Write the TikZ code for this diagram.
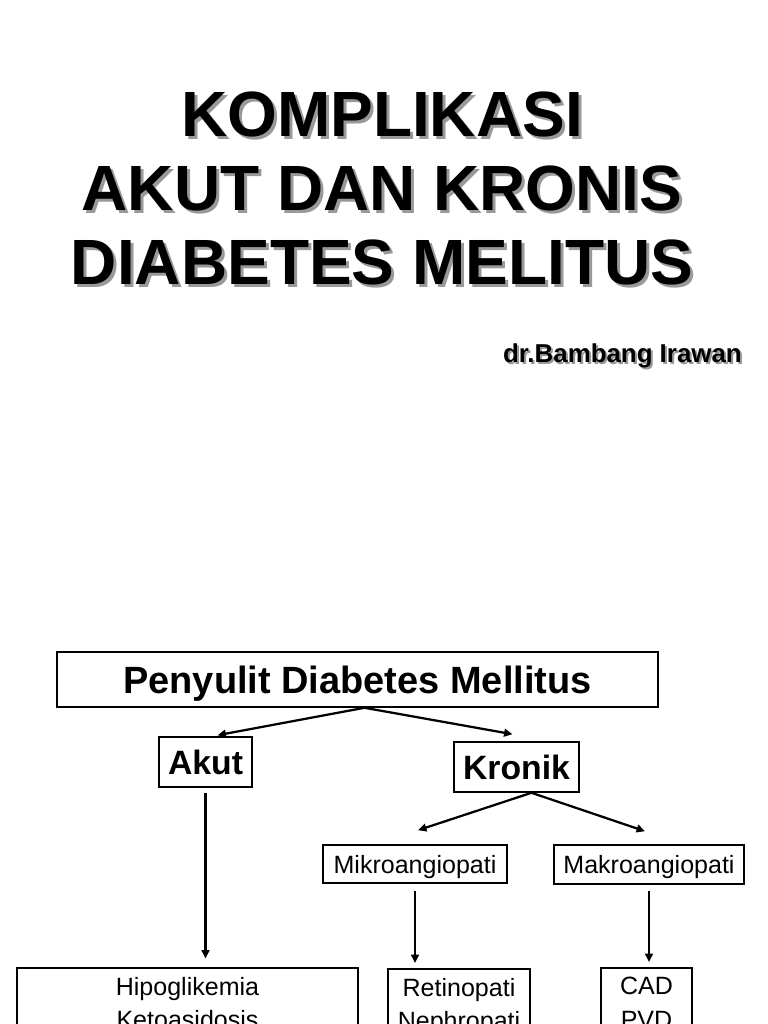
\documentclass[tikz,border=0pt]{standalone}
\usepackage{fontspec}
\setmainfont{Liberation Sans}
\usetikzlibrary{calc}
\usetikzlibrary{arrows.meta}

\begin{document}
\begin{tikzpicture}[x=0.025cm,y=-0.025cm,
    judul/.style={font=\fontsize{45.5}{54}\selectfont\bfseries, anchor=base, inner sep=0pt},
    penulis/.style={font=\fontsize{18.4}{22}\selectfont\bfseries, anchor=base east, inner sep=0pt},
    bayang/.style={text=black!40},
    kotak/.style={draw=black, line width=1.1pt, inner sep=0pt, align=center, text depth=0pt},
    tebal/.style={font=\fontsize{24}{29}\selectfont\bfseries},
    biasa/.style={font=\fontsize{17.8}{24}\selectfont},
    panah/.style={black, line width=1.6pt, -{Triangle[length=6pt,width=5.5pt]}}]
    %LATAR
    \useasboundingbox (0,0) rectangle (768,1024);
    \fill[white] (0,0) rectangle (768,1024);
    \clip (0,0) rectangle (768,1024);
    %JUDUL
    \node[judul, bayang] (judulA-b) at (385,140) {KOMPLIKASI};
    \node[judul] (judulA) at (382,137) {KOMPLIKASI};
    \node[judul, bayang] (judulB-b) at (385,214) {AKUT DAN KRONIS};
    \node[judul] (judulB) at (382,211) {AKUT DAN KRONIS};
    \node[judul, bayang] (judulC-b) at (385,287) {DIABETES MELITUS};
    \node[judul] (judulC) at (382,284) {DIABETES MELITUS};
    %PENULIS
    \node[penulis, bayang] (penulis-b) at (744,364) {dr.Bambang Irawan};
    \node[penulis] (penulis) at (742,362) {dr.Bambang Irawan};
    %KOTAK
    \node[kotak, minimum width=15.025cm, minimum height=1.375cm, font=\fontsize{27}{32}\selectfont\bfseries] (penyulit) at (357.5,679.5) {Penyulit Diabetes Mellitus};
    \node[kotak, tebal, minimum width=2.325cm, minimum height=1.25cm] (akut) at (205.5,762) {Akut};
    \node[kotak, tebal, minimum width=3.125cm, minimum height=1.25cm] (kronik) at (516.5,767) {Kronik};
    \node[kotak, biasa, minimum width=4.6cm, minimum height=0.95cm] (mikro) at (415,864) {Mikroangiopati};
    \node[kotak, biasa, minimum width=4.75cm, minimum height=0.975cm] (makro) at (649,864.5) {Makroangiopati};
    \node[kotak, biasa, anchor=north, minimum width=8.525cm, inner ysep=6.5pt] (hipo) at (187.5,967) {Hipoglikemia\\Ketoasidosis};
    \node[kotak, biasa, anchor=north, minimum width=3.55cm, inner ysep=6.5pt] (retino) at (459,968) {Retinopati\\Nephropati};
    \node[kotak, biasa, anchor=north, minimum width=2.275cm, inner ysep=6.5pt] (cad) at (646.5,967) {CAD\\PVD};
    %PANAH
    \draw[panah] ($(penyulit.south)+(7,0)$) -- ($(akut.north)+(12,-1)$);
    \draw[panah] ($(penyulit.south)+(7,0)$) -- ($(kronik.north)+(-4,-7)$);
    \draw[panah] ($(kronik.south)+(15,0)$) -- ($(mikro.north)+(3,-14)$);
    \draw[panah] ($(kronik.south)+(15,0)$) -- ($(makro.north)+(-4,-13)$);
    \draw[panah, shorten <=4pt, shorten >=6pt] (akut.south) -- (akut.south |- hipo.north);
    \draw[panah, shorten <=5pt, shorten >=3.5pt] (mikro.south) -- (mikro.south |- retino.north);
    \draw[panah, shorten <=4.5pt, shorten >=3.5pt] (makro.south) -- (makro.south |- cad.north);
\end{tikzpicture}
\end{document}
